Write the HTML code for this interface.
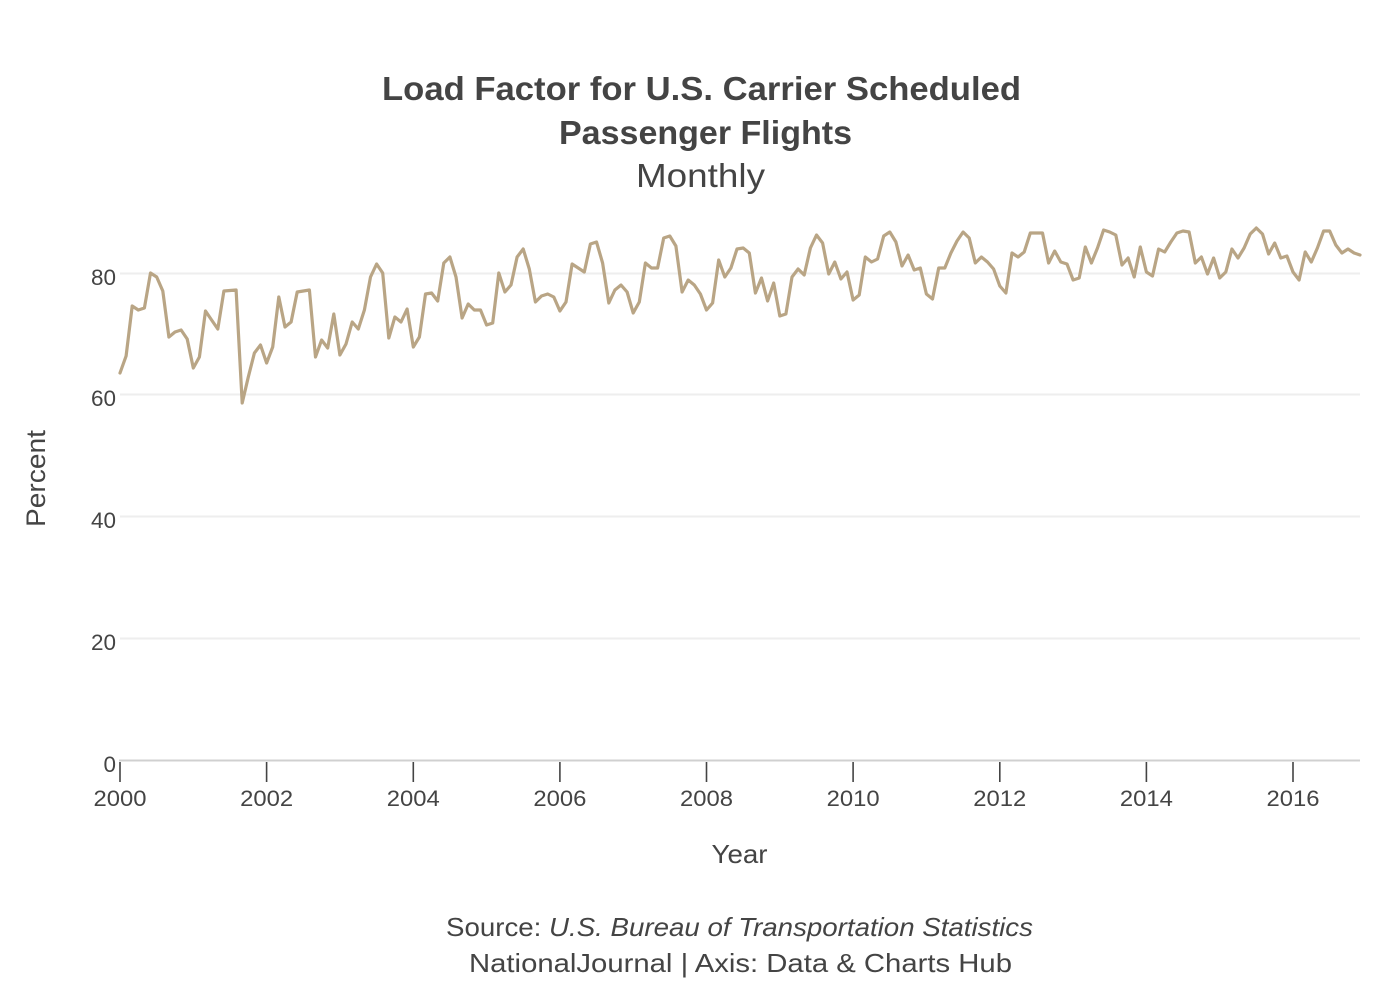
<!DOCTYPE html>
<html>
<head>
<meta charset="utf-8">
<style>
  html, body { margin:0; padding:0; background:#fff; }
  svg { display:block; }
  text { font-family: "Liberation Sans", "DejaVu Sans", sans-serif; fill:#444; }
</style>
</head>
<body>
<svg width="1400" height="1000" viewBox="0 0 1400 1000" xmlns="http://www.w3.org/2000/svg">
  <rect x="0" y="0" width="1400" height="1000" fill="#fff"/>

  <!-- Title -->
  <text x="701.5" y="100" font-size="33" font-weight="bold" text-anchor="middle" textLength="639" lengthAdjust="spacingAndGlyphs">Load Factor for U.S. Carrier Scheduled</text>
  <text x="705.5" y="144" font-size="33" font-weight="bold" text-anchor="middle" textLength="293" lengthAdjust="spacingAndGlyphs">Passenger Flights</text>
  <text x="700.5" y="187" font-size="33" text-anchor="middle" textLength="129" lengthAdjust="spacingAndGlyphs">Monthly</text>

  <!-- Gridlines -->
  <g stroke="#eeeeee" stroke-width="2">
    <line x1="120" y1="273.5" x2="1360" y2="273.5"/>
    <line x1="120" y1="394.5" x2="1360" y2="394.5"/>
    <line x1="120" y1="516.5" x2="1360" y2="516.5"/>
    <line x1="120" y1="638.5" x2="1360" y2="638.5"/>
  </g>
  <!-- X axis line -->
  <line x1="119" y1="760.5" x2="1360" y2="760.5" stroke="#d0d0d0" stroke-width="2"/>

  <!-- Y tick labels -->
  <g font-size="22" text-anchor="end">
    <text x="116" y="285" textLength="25" lengthAdjust="spacingAndGlyphs">80</text>
    <text x="116" y="406" textLength="25" lengthAdjust="spacingAndGlyphs">60</text>
    <text x="116" y="528" textLength="25" lengthAdjust="spacingAndGlyphs">40</text>
    <text x="116" y="650" textLength="25" lengthAdjust="spacingAndGlyphs">20</text>
    <text x="116" y="772" textLength="12.5" lengthAdjust="spacingAndGlyphs">0</text>
  </g>

  <!-- X ticks -->
  <g stroke="#444" stroke-width="1.6">
    <line x1="120" y1="762" x2="120" y2="782"/>
    <line x1="266.6" y1="762" x2="266.6" y2="782"/>
    <line x1="413.3" y1="762" x2="413.3" y2="782"/>
    <line x1="559.9" y1="762" x2="559.9" y2="782"/>
    <line x1="706.5" y1="762" x2="706.5" y2="782"/>
    <line x1="853.1" y1="762" x2="853.1" y2="782"/>
    <line x1="999.8" y1="762" x2="999.8" y2="782"/>
    <line x1="1146.4" y1="762" x2="1146.4" y2="782"/>
    <line x1="1293" y1="762" x2="1293" y2="782"/>
  </g>
  <g font-size="22" text-anchor="middle">
    <text x="120" y="806" textLength="53" lengthAdjust="spacingAndGlyphs">2000</text>
    <text x="266.6" y="806" textLength="53" lengthAdjust="spacingAndGlyphs">2002</text>
    <text x="413.3" y="806" textLength="53" lengthAdjust="spacingAndGlyphs">2004</text>
    <text x="559.9" y="806" textLength="53" lengthAdjust="spacingAndGlyphs">2006</text>
    <text x="706.5" y="806" textLength="53" lengthAdjust="spacingAndGlyphs">2008</text>
    <text x="853.1" y="806" textLength="53" lengthAdjust="spacingAndGlyphs">2010</text>
    <text x="999.8" y="806" textLength="53" lengthAdjust="spacingAndGlyphs">2012</text>
    <text x="1146.4" y="806" textLength="53" lengthAdjust="spacingAndGlyphs">2014</text>
    <text x="1293" y="806" textLength="53" lengthAdjust="spacingAndGlyphs">2016</text>
  </g>

  <!-- Axis titles -->
  <text x="739.5" y="863" font-size="26" text-anchor="middle" textLength="56" lengthAdjust="spacingAndGlyphs">Year</text>
  <text transform="translate(45,478.5) rotate(-90)" x="0" y="0" font-size="27" text-anchor="middle" textLength="97" lengthAdjust="spacingAndGlyphs">Percent</text>

  <!-- Data line -->
  <polyline fill="none" stroke="#b9a585" stroke-width="3.2" stroke-linejoin="round" stroke-linecap="round" points="
120.0,373 126.1,356 132.2,306 138.3,310 144.4,308 150.5,273 156.7,277 162.8,291 168.9,337 175.0,332 181.1,330 187.2,339
193.3,368 199.4,357 205.5,311 211.6,320 217.8,329 223.9,291 230.0,290.5 236.1,290 242.2,403 248.3,377 254.4,353 260.5,345
266.6,363 272.7,347 278.8,297 285.0,327 291.1,322 297.2,292 303.3,291 309.4,290 315.5,357 321.6,340 327.7,348 333.8,314
339.9,355 346.0,344 352.2,322 358.3,329 364.4,310 370.5,277 376.6,264 382.7,273 388.8,338 394.9,317 401.0,322 407.1,309
413.3,347 419.4,337 425.5,294 431.6,293 437.7,301 443.8,263 449.9,257 456.0,277 462.1,318 468.2,304 474.3,310 480.5,310
486.6,325 492.7,323 498.8,273 504.9,292 511.0,285 517.1,257 523.2,249 529.3,269 535.4,302 541.5,296 547.7,294 553.8,297
559.9,311 566.0,302 572.1,264 578.2,268 584.3,272 590.4,244 596.5,242 602.6,263 608.8,303 614.9,290 621.0,285 627.1,292
633.2,313 639.3,302 645.4,263 651.5,268 657.6,268 663.7,238 669.8,236 675.9,246 682.1,292 688.2,280 694.3,285 700.4,294
706.5,310 712.6,303 718.7,260 724.8,277 730.9,268 737.0,249 743.2,248 749.3,253 755.4,293 761.5,278 767.6,301 773.7,283
779.8,316 785.9,314 792.0,277 798.1,269 804.2,275 810.4,248 816.5,235 822.6,243 828.7,274 834.8,262 840.9,279 847.0,272
853.1,300 859.2,295 865.3,257 871.5,262 877.6,259 883.7,236 889.8,232 895.9,242 902.0,266 908.1,255 914.2,270 920.3,268
926.4,294 932.5,299 938.7,268 944.8,268 950.9,253 957.0,241 963.1,232 969.2,238 975.3,263 981.4,257 987.5,262 993.6,269
999.8,286 1005.9,293 1012.0,253 1018.1,257 1024.2,252 1030.3,233 1036.4,233 1042.5,233 1048.6,263 1054.7,251 1060.8,262 1067.0,264
1073.1,280 1079.2,278 1085.3,247 1091.4,263 1097.5,248 1103.6,230 1109.7,232 1115.8,235 1122.0,265 1128.1,258 1134.2,277 1140.3,247
1146.4,272 1152.5,276 1158.6,249 1164.7,252 1170.8,242 1176.9,233 1183.0,231 1189.1,232 1195.3,263 1201.4,257 1207.5,274 1213.6,258
1219.7,278 1225.8,272 1231.9,249 1238.0,258 1244.1,248 1250.2,234 1256.3,228 1262.5,234 1268.6,254 1274.7,243 1280.8,258 1286.9,256
1293.0,272 1299.1,280 1305.2,252 1311.3,262 1317.4,248 1323.6,231 1329.7,231 1335.8,245 1341.9,253 1348.0,249 1354.1,253 1360.0,255"/>

  <!-- Footer -->
  <text x="739.5" y="936" font-size="26" text-anchor="middle" textLength="587" lengthAdjust="spacingAndGlyphs">Source: <tspan font-style="italic">U.S. Bureau of Transportation Statistics</tspan></text>
  <text x="740.5" y="972" font-size="26" text-anchor="middle" textLength="543" lengthAdjust="spacingAndGlyphs">NationalJournal | Axis: Data &amp; Charts Hub</text>
</svg>
</body>
</html>
